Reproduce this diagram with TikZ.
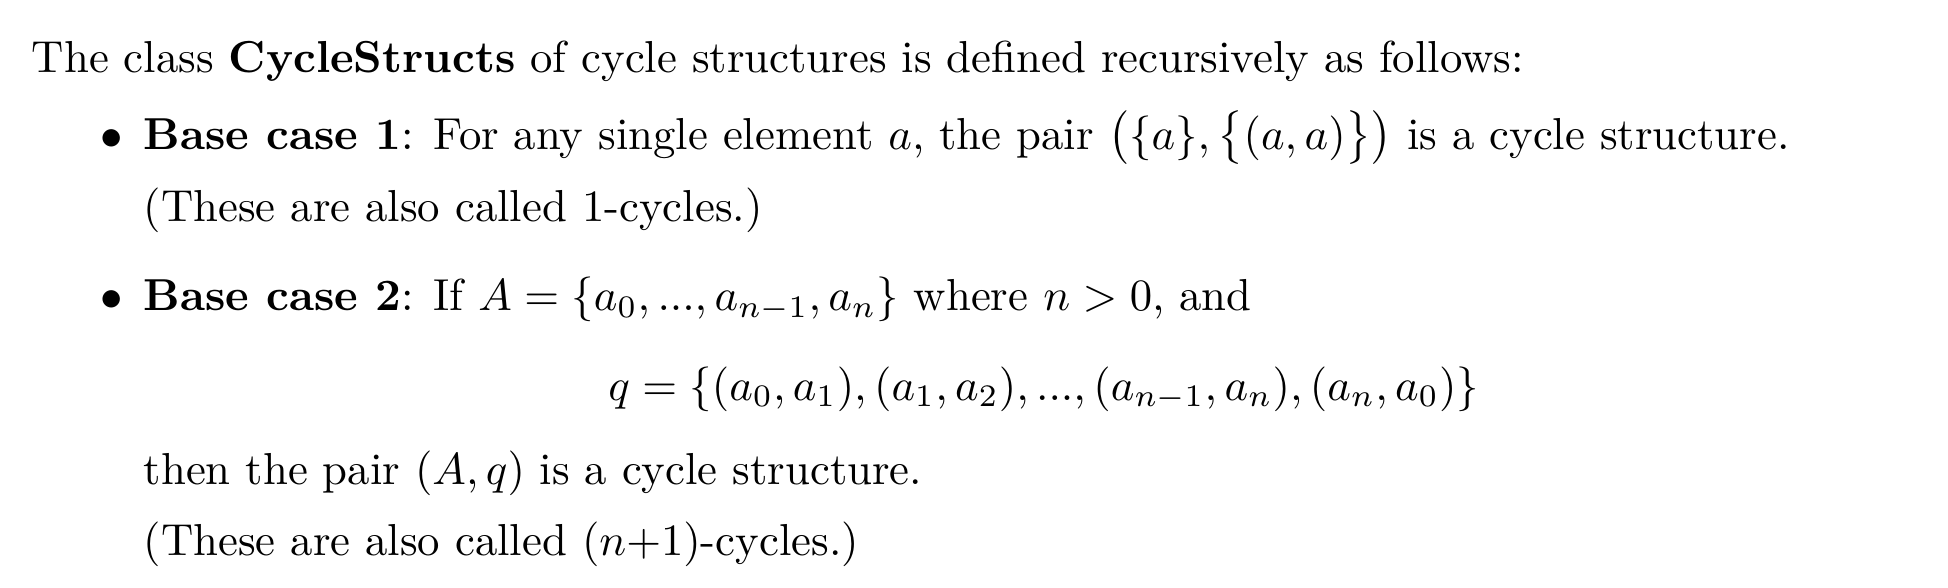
\documentclass[tikz,border=0pt]{standalone}
\usepackage{amsmath}
\begin{document}
\begin{tikzpicture}[x=0.2775pt,y=-0.2775pt,txt/.style={anchor=base west,inner sep=0pt}]
\useasboundingbox (0,0) rectangle (1568,473);
\node[txt] (l1) at (25,58) {The class \textbf{CycleStructs} of cycle structures is defined recursively as follows:};
\node[txt] (b1) at (80,120) {$\bullet$};
\node[txt] (l2) at (115,120) {\textbf{Base case 1}: For any single element $a$, the pair $\bigl(\{a\},\bigl\{(a,a)\bigr\}\bigr)$ is a cycle structure.};
\node[txt] (l3) at (115,178) {(These are also called 1-cycles.)};
\node[txt] (b2) at (80,250) {$\bullet$};
\node[txt] (l4) at (115,250) {\textbf{Base case 2}: If $A=\{a_0,...,a_{n-1},a_n\}$ where $n>0$, and};
\node[anchor=base,inner sep=0pt] (l5) at (840,322) {$q=\{(a_0,a_1),(a_1,a_2),...,(a_{n-1},a_n),(a_n,a_0)\}$};
\node[txt] (l6) at (115,390) {then the pair $(A,q)$ is a cycle structure.};
\node[txt] (l7) at (115,447) {(These are also called $(n{+}1)$-cycles.)};
\end{tikzpicture}
\end{document}
